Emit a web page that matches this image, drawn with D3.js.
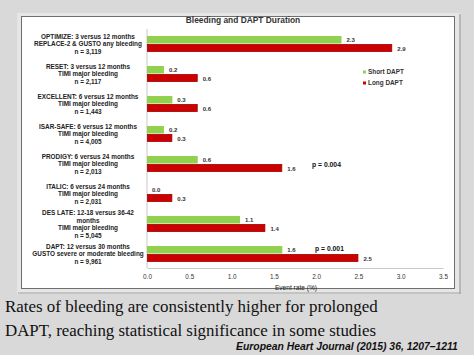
<!DOCTYPE html>
<html><head><meta charset="utf-8">
<script src="https://cdn.jsdelivr.net/npm/d3@7"></script>
<style>html,body{margin:0;padding:0;background:#d9d9d9;}svg{display:block;}</style>
</head><body>
<svg id="c" width="474" height="355"></svg>
<script>
const studies = [
  ["OPTIMIZE: 3 versus 12 months", "REPLACE-2 & GUSTO any bleeding", "n = 3,119"],
  ["RESET: 3 versus 12 months", "TIMI major bleeding", "n = 2,117"],
  ["EXCELLENT: 6 versus 12 months", "TIMI major bleeding", "n = 1,443"],
  ["ISAR-SAFE: 6 versus 12 months", "TIMI major bleeding", "n = 4,005"],
  ["PRODIGY: 6 versus 24 months", "TIMI major bleeding", "n = 2,013"],
  ["ITALIC: 6 versus 24 months", "TIMI major bleeding", "n = 2,031"],
  ["DES LATE: 12-18 versus 36-42", "months", "TIMI major bleeding", "n = 5,045"],
  ["DAPT: 12 versus 30 months", "GUSTO severe or moderate bleeding", "n = 9,961"]
];
const shortDAPT = [2.3, 0.2, 0.3, 0.2, 0.6, 0.0, 1.1, 1.6];
const longDAPT  = [2.9, 0.6, 0.6, 0.3, 1.6, 0.3, 1.4, 2.5];
const seriesNames = ["Short DAPT", "Long DAPT"];
const xTicks = [0, 0.5, 1.0, 1.5, 2.0, 2.5, 3.0, 3.5];
const pValues = [{i: 4, text: "p = 0.004"}, {i: 7, text: "p = 0.001"}];

const svg = d3.select("#c");
const green = "#92d050", red = "#cc0000";
const SANS = "Liberation Sans, Arial, sans-serif";

// slide frame
svg.append("rect").attr("x",17).attr("y",13).attr("width",444).attr("height",281).attr("fill","#e6e6e6");
svg.append("line").attr("x1",460).attr("x2",460).attr("y1",14).attr("y2",294).attr("stroke","#8a8a8a");
svg.append("line").attr("x1",18).attr("x2",461).attr("y1",293).attr("y2",293).attr("stroke","#a0a0a0");
svg.append("rect").attr("x",21.5).attr("y",16.5).attr("width",433).attr("height",272)
  .attr("fill","#fff").attr("stroke","#6f6f6f").attr("stroke-width",1);

const x = d3.scaleLinear().domain([0, 3.5]).range([147, 443]);
const y = d3.scaleBand().domain(d3.range(studies.length)).range([29, 269]);
const bh = 8;

svg.append("text").attr("x",243).attr("y",23).attr("text-anchor","middle")
  .attr("font-family",SANS).attr("font-weight","bold")
  .attr("font-size",8.4).attr("fill","#333").text("Bleeding and DAPT Duration");

// axes
const xAxis = d3.axisBottom(x).tickValues(xTicks).tickFormat(d3.format(".1f")).tickSize(0).tickPadding(6);
const gx = svg.append("g").attr("transform","translate(0,268)").call(xAxis);
gx.select(".domain").attr("stroke","#c8c8c8");
gx.selectAll("text").attr("font-family",SANS).attr("font-size",6.4).attr("fill","#333");
svg.append("line").attr("x1",147).attr("x2",147).attr("y1",29).attr("y2",268).attr("stroke","#c8c8c8");
svg.append("text").attr("x",296).attr("y",289.5).attr("text-anchor","middle")
  .attr("font-family",SANS).attr("font-size",6.6).attr("fill","#222")
  .text("Event rate (%)");

// bars
const g = svg.append("g");
studies.forEach((s, i) => {
  const c = y(i) + y.bandwidth()/2;
  g.append("rect").attr("x",x(0)).attr("y",c - bh).attr("width",x(shortDAPT[i]) - x(0)).attr("height",bh-0.5)
    .attr("fill",green);
  g.append("rect").attr("x",x(0)+0.5).attr("y",c+0.5).attr("width",Math.max(0,x(longDAPT[i]) - x(0)-1)).attr("height",bh-1)
    .attr("fill",red).attr("stroke","#a00000").attr("stroke-width",0.8);
  g.append("text").attr("x",x(shortDAPT[i]) + 5).attr("y",c - bh/2 + 2)
    .attr("font-family",SANS).attr("font-size",6).attr("fill","#333")
    .attr("font-weight","bold").text(shortDAPT[i].toFixed(1));
  g.append("text").attr("x",x(longDAPT[i]) + 5).attr("y",c + bh/2 + 2.5)
    .attr("font-family",SANS).attr("font-size",6).attr("fill","#333")
    .attr("font-weight","bold").text(longDAPT[i].toFixed(1));
  const n = s.length, lh = 7.5;
  s.forEach((line, k) => {
    g.append("text").attr("x",88).attr("y", c + (k - (n-1)/2)*lh + 2.3).attr("text-anchor","middle")
      .attr("font-family",SANS).attr("font-size",6.4).attr("font-weight","bold")
      .attr("fill","#222").text(line);
  });
});

pValues.forEach(p => {
  const c = y(p.i) + y.bandwidth()/2;
  svg.append("text").attr("x", p.i === 4 ? 312 : 315).attr("y", c + (p.i === 4 ? 3 : -3))
    .attr("font-family",SANS).attr("font-size",6.8).attr("font-weight","bold").attr("fill","#111")
    .text(p.text);
});

// legend
seriesNames.forEach((nm, i) => {
  const ly = 72 + i*11;
  svg.append("rect").attr("x",363).attr("y",ly-1.5).attr("width",3).attr("height",3).attr("fill",i ? red : green);
  svg.append("text").attr("x",368).attr("y",ly+2.2).attr("font-family",SANS)
    .attr("font-size",6.4).attr("font-weight","bold").attr("fill","#333").text(nm);
});

// caption
function fit(t, w){ const l = t.node().getComputedTextLength(); t.attr("font-size", parseFloat(t.attr("font-size"))*w/l); }
const t1 = svg.append("text").attr("x",5).attr("y",312).attr("font-family","Liberation Serif, Times New Roman, serif")
  .attr("font-size",18).attr("fill","#111").text("Rates of bleeding are consistently higher for prolonged");
fit(t1, 373);
const t2 = svg.append("text").attr("x",5).attr("y",336).attr("font-family","Liberation Serif, Times New Roman, serif")
  .attr("font-size",18).attr("fill","#111").text("DAPT, reaching statistical significance in some studies");
fit(t2, 371);
const t3 = svg.append("text").attr("x",236).attr("y",350).attr("font-family",SANS)
  .attr("font-size",10).attr("font-weight","bold").attr("font-style","italic").attr("fill","#111")
  .text("European Heart Journal (2015) 36, 1207–1211");
fit(t3, 222);
</script>
</body></html>
